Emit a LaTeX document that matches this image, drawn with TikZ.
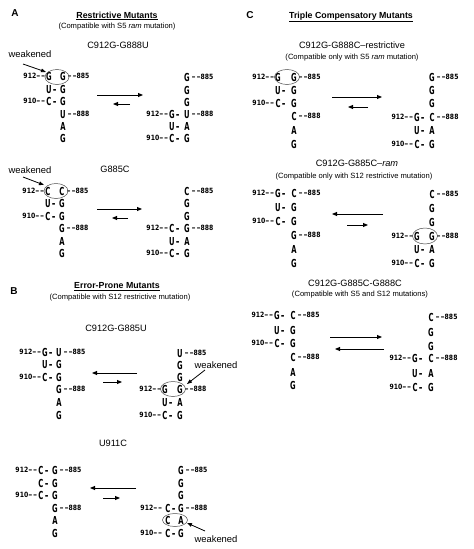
\documentclass[tikz,border=0pt]{standalone}
\usepackage{graphicx}
\usepackage{fontspec}
\setmainfont{Liberation Sans}
\newfontfamily\nucf{DejaVu Sans}[FakeStretch=0.62]
\newfontfamily\labf{DejaVu Sans}[FakeStretch=0.85]
\usetikzlibrary{arrows.meta,shapes.geometric}
\newcounter{nn}
\newcommand\nd[4][]{\stepcounter{nn}\node[#1] (n\arabic{nn}) at (#2,#3) {#4};}
\newcommand\DD{\scalebox{1.6}[1]{-}\kern0.9pt\scalebox{1.6}[1]{-}}
% base pair with dash: L R y left right
\newcommand\bp[5]{\nd[nuc]{#1}{#3}{#4}\nd[nuc]{#1+5.8}{#3}{\scalebox{1.3}[1]{-}}\nd[nuc]{#2}{#3}{#5}}
% unpaired pair (no dash)
\newcommand\up[5]{\nd[nuc]{#1}{#3}{#4}\nd[nuc]{#2}{#3}{#5}}
\newcommand\sg[3]{\nd[nuc]{#1}{#2}{#3}}
\newcommand\llab[3]{\nd[lab,anchor=east]{#1-3.5}{#2}{#3}}
\newcommand\rlab[3]{\nd[lab,anchor=west]{#1+4.5}{#2}{#3}}
\newcommand\ring[4]{\nd[ring,minimum width=#3,minimum height=#4]{#1}{#2}{}}
\newcommand\arw[5]{\coordinate (#1s) at (#2,#4); \coordinate (#1e) at (#3,#4); \draw[#5] (#1s) -- (#1e);}
\tikzset{
  nuc/.style={font=\nucf\bfseries\fontsize{11}{11}\selectfont, inner sep=0pt, text height=8pt, text depth=0pt},
  lab/.style={font=\labf\bfseries\fontsize{7.2}{7.5}\selectfont, inner sep=0pt, text height=5.2pt, text depth=0pt},
  ring/.style={draw=black!70, line width=0.5pt, ellipse, inner sep=0pt},
  arr/.style={line width=0.9pt, -{Triangle[length=5pt,width=4pt]}},
  warr/.style={line width=0.8pt, -{Triangle[length=5pt,width=3.6pt]}},
  panel/.style={font=\bfseries\fontsize{10}{12}\selectfont, inner sep=0pt},
  ttl/.style={font=\bfseries\fontsize{8.8}{10}\selectfont, inner sep=0pt},
  sub/.style={font=\fontsize{7.6}{9}\selectfont, inner sep=0pt},
  mut/.style={font=\fontsize{9.2}{11}\selectfont, inner sep=0pt},
  wk/.style={font=\fontsize{9.4}{11}\selectfont, inner sep=0pt}
}
\begin{document}
\begin{tikzpicture}[x=1pt,y=-1pt]
\useasboundingbox[fill=white] (0,0) rectangle (474,549);
% ---------- A ----------
\node[panel] (pA) at (15,13) {A};
\node[ttl] (tA) at (117,16) {\underline{Restrictive Mutants}};
\node[sub] (sA) at (117,27) {(Compatible with S5 \textit{ram} mutation)};
\node[mut] (mA1) at (118,45) {C912G-G888U};
\node[wk] (wA1) at (30,54) {weakened};
\coordinate (wA1s) at (23,64); \coordinate (wA1e) at (46,72);
\draw[warr] (wA1s) -- (wA1e);
% A1 left
\llab{49}{76}{912\DD}\up{49}{63}{76}{G}{G}\rlab{63}{76}{\DD885}\ring{57}{77}{24}{15}
\bp{49}{63}{89}{U}{G}
\llab{49}{101}{910\DD}\bp{49}{63}{101}{C}{G}
\sg{63}{114}{U}\rlab{63}{114}{\DD888}
\sg{63}{126}{A}
\sg{63}{138}{G}
% A1 right
\sg{187}{77}{G}\rlab{187}{77}{\DD885}
\sg{187}{90}{G}
\sg{187}{102}{G}
\llab{172}{114}{912\DD}\bp{172}{187}{114}{G}{U}\rlab{187}{114}{\DD888}
\bp{172}{187}{126}{U}{A}
\llab{172}{138}{910\DD}\bp{172}{187}{138}{C}{G}
\arw{aA1f}{97}{143}{95}{arr}
\arw{aA1b}{130}{113}{104}{arr}
% A2
\node[mut] (mA2) at (115,169) {G885C};
\node[wk] (wA2) at (30,170) {weakened};
\coordinate (wA2s) at (23,177); \coordinate (wA2e) at (44,185);
\draw[warr] (wA2s) -- (wA2e);
\llab{48}{191}{912\DD}\up{48}{62}{191}{C}{C}\rlab{62}{191}{\DD885}\ring{56}{191}{24}{15}
\bp{48}{62}{203}{U}{G}
\llab{48}{216}{910\DD}\bp{48}{62}{216}{C}{G}
\sg{62}{228}{G}\rlab{62}{228}{\DD888}
\sg{62}{241}{A}
\sg{62}{253}{G}
\sg{187}{191}{C}\rlab{187}{191}{\DD885}
\sg{187}{203}{G}
\sg{187}{216}{G}
\llab{172}{228}{912\DD}\bp{172}{187}{228}{C}{G}\rlab{187}{228}{\DD888}
\bp{172}{187}{241}{U}{A}
\llab{172}{253}{910\DD}\bp{172}{187}{253}{C}{G}
\arw{aA2f}{97}{142}{209}{arr}
\arw{aA2b}{128}{112}{218}{arr}
% ---------- B ----------
\node[panel] (pB) at (14,291) {B};
\node[ttl] (tB) at (117,287) {\underline{Error-Prone Mutants}};
\node[sub] (sB) at (120,298) {(Compatible with S12 restrictive mutation)};
\node[mut] (mB1) at (116,328) {C912G-G885U};
\llab{45}{352}{912\DD}\bp{45}{59}{352}{G}{U}\rlab{59}{352}{\DD885}
\bp{45}{59}{364}{U}{G}
\llab{45}{377}{910\DD}\bp{45}{59}{377}{C}{G}
\sg{59}{389}{G}\rlab{59}{389}{\DD888}
\sg{59}{402}{A}
\sg{59}{415}{G}
\sg{180}{353}{U}\rlab{180}{353}{\DD885}
\sg{180}{365}{G}
\sg{180}{377}{G}
\llab{165}{389}{912\DD}\up{165}{180}{389}{G}{G}\rlab{180}{389}{\DD888}\ring{173}{389}{25}{15}
\bp{165}{180}{402}{U}{A}
\llab{165}{415}{910\DD}\bp{165}{180}{415}{C}{G}
\node[wk] (wB1) at (216,365) {weakened};
\coordinate (wB1s) at (205,370); \coordinate (wB1e) at (187,384);
\draw[warr] (wB1s) -- (wB1e);
\arw{aB1b}{137}{92}{373}{arr}
\arw{aB1f}{103}{122}{382}{arr}
% B2
\node[mut] (mB2) at (113,443) {U911C};
\llab{41}{470}{912\DD}\bp{41}{55}{470}{C}{G}\rlab{55}{470}{\DD885}
\bp{41}{55}{483}{C}{G}
\llab{41}{495}{910\DD}\bp{41}{55}{495}{C}{G}
\sg{55}{508}{G}\rlab{55}{508}{\DD888}
\sg{55}{520}{A}
\sg{55}{533}{G}
\sg{181}{470}{G}\rlab{181}{470}{\DD885}
\sg{181}{483}{G}
\sg{181}{495}{G}
\llab{166}{508}{912\DD}\bp{168}{181}{508}{C}{G}\rlab{181}{508}{\DD888}
\up{168}{181}{520}{C}{A}\ring{175}{520}{25}{13}
\llab{166}{533}{910\DD}\bp{168}{181}{533}{C}{G}
\node[wk] (wB2) at (216,539) {weakened};
\coordinate (wB2s) at (205,531); \coordinate (wB2e) at (187,523);
\draw[warr] (wB2s) -- (wB2e);
\arw{aB2b}{136}{90}{488}{arr}
\arw{aB2f}{103}{120}{498}{arr}
% ---------- C ----------
\node[panel] (pC) at (250,15) {C};
\node[ttl] (tC) at (351,17) {\underline{Triple Compensatory Mutants}};
\node[mut] (mC1) at (352,45) {C912G-G888C–restrictive};
\node[sub] (sC1) at (352,58) {(Compatible only with S5 \textit{ram} mutation)};
\llab{278}{77}{912\DD}\up{278}{294}{77}{G}{G}\rlab{294}{77}{\DD885}\ring{287}{77}{25}{15}
\bp{278}{294}{90}{U}{G}
\llab{278}{103}{910\DD}\bp{278}{294}{103}{C}{G}
\sg{294}{116}{C}\rlab{294}{116}{\DD888}
\sg{294}{130}{A}
\sg{294}{144}{G}
\sg{432}{77}{G}\rlab{432}{77}{\DD885}
\sg{432}{90}{G}
\sg{432}{103}{G}
\llab{417}{117}{912\DD}\bp{417}{432}{117}{G}{C}\rlab{432}{117}{\DD888}
\bp{417}{432}{130}{U}{A}
\llab{417}{144}{910\DD}\bp{417}{432}{144}{C}{G}
\arw{aC1f}{332}{382}{97}{arr}
\arw{aC1b}{368}{348}{107}{arr}
% C2
\node[mut] (mC2) at (357,163) {C912G-G885C\textit{–ram}};
\node[sub] (sC2) at (354,177) {(Compatible only with S12 restrictive mutation)};
\llab{278}{193}{912\DD}\bp{278}{294}{193}{G}{C}\rlab{294}{193}{\DD885}
\bp{278}{294}{207}{U}{G}
\llab{278}{221}{910\DD}\bp{278}{294}{221}{C}{G}
\sg{294}{235}{G}\rlab{294}{235}{\DD888}
\sg{294}{249}{A}
\sg{294}{263}{G}
\sg{432}{194}{C}\rlab{432}{194}{\DD885}
\sg{432}{208}{G}
\sg{432}{222}{G}
\llab{417}{236}{912\DD}\up{417}{432}{236}{G}{G}\rlab{432}{236}{\DD888}\ring{425}{236}{25}{16}
\bp{417}{432}{249}{U}{A}
\llab{417}{263}{910\DD}\bp{417}{432}{263}{C}{G}
\arw{aC2b}{383}{332}{214}{arr}
\arw{aC2f}{347}{368}{225}{arr}
% C3
\node[mut] (mC3) at (355,283) {C912G-G885C-G888C};
\node[sub] (sC3) at (360,295) {(Compatible with S5 and S12 mutations)};
\llab{277}{315}{912\DD}\bp{277}{293}{315}{G}{C}\rlab{293}{315}{\DD885}
\bp{277}{293}{330}{U}{G}
\llab{277}{343}{910\DD}\bp{277}{293}{343}{C}{G}
\sg{293}{357}{C}\rlab{293}{357}{\DD888}
\sg{293}{372}{A}
\sg{293}{385}{G}
\sg{431}{317}{C}\rlab{431}{317}{\DD885}
\sg{431}{332}{G}
\sg{431}{346}{G}
\llab{415}{358}{912\DD}\bp{415}{431}{358}{G}{C}\rlab{431}{358}{\DD888}
\bp{415}{431}{373}{U}{A}
\llab{415}{387}{910\DD}\bp{415}{431}{387}{C}{G}
\arw{aC3f}{330}{382}{337}{arr}
\arw{aC3b}{384}{335}{349}{arr}
\end{tikzpicture}
\end{document}
